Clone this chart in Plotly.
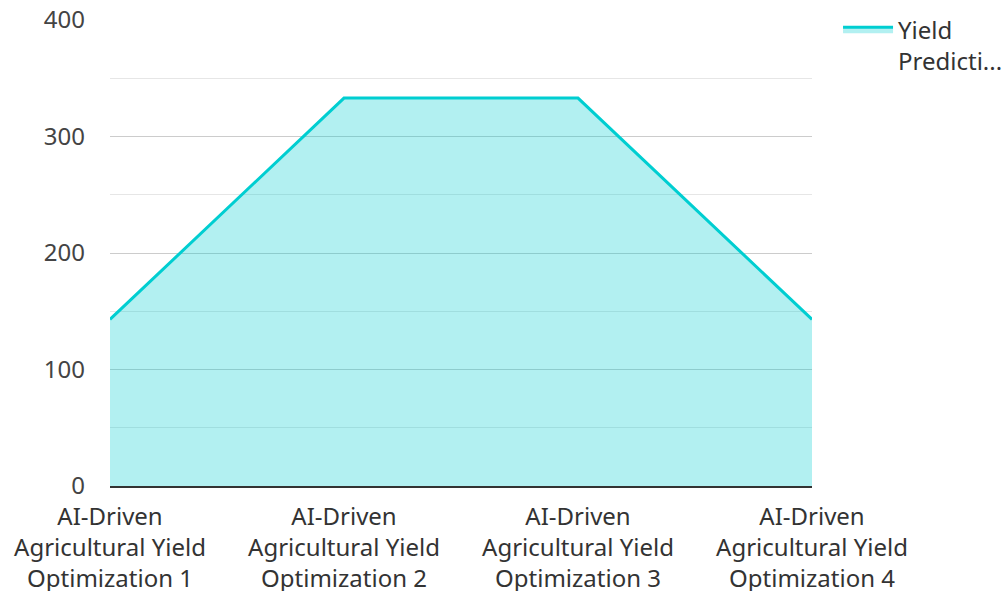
import plotly.graph_objects as go

categories = [
    "AI-Driven<br>Agricultural Yield<br>Optimization 1",
    "AI-Driven<br>Agricultural Yield<br>Optimization 2",
    "AI-Driven<br>Agricultural Yield<br>Optimization 3",
    "AI-Driven<br>Agricultural Yield<br>Optimization 4",
]
yield_prediction = [143, 333, 333, 143]
series_name = "Yield<br>Predicti..."

fig = go.Figure()
fig.add_trace(go.Scatter(
    x=categories,
    y=yield_prediction,
    name=series_name,
    mode="lines",
    line=dict(color="#00CED1", width=3),
    fill="tozeroy",
    fillcolor="rgba(0,206,209,0.30)",
))

font_family = "Noto Sans, Open Sans, sans-serif"
fig.update_layout(
    width=1004,
    height=591,
    margin=dict(l=110, r=192, t=20, b=105),
    plot_bgcolor="white",
    paper_bgcolor="white",
    font=dict(family=font_family, size=24, color="#444444"),
    showlegend=True,
    legend=dict(
        xref="container", yref="container",
        x=0.8347, y=0.988, xanchor="left", yanchor="top",
        valign="top",
        font=dict(size=24, color="#333333"),
        bgcolor="rgba(0,0,0,0)",
        itemwidth=50,
    ),
    xaxis=dict(
        type="category",
        range=[0, 3],
        showgrid=False,
        showline=True,
        linecolor="#333333",
        linewidth=2,
        ticks="",
        ticklabelstandoff=8,
        automargin=False,
        tickfont=dict(size=24, color="#333333"),
        zeroline=False,
    ),
    yaxis=dict(
        range=[0, 400],
        dtick=100,
        showgrid=True,
        gridcolor="#cccccc",
        gridwidth=1,
        zeroline=False,
        showline=False,
        ticks="",
        ticklabelstandoff=24,
        automargin=False,
        tickfont=dict(size=24, color="#444444"),
        minor=dict(dtick=50, showgrid=True, gridcolor="#e6e6e6", gridwidth=1),
    ),
)

fig.write_html("out.html")
